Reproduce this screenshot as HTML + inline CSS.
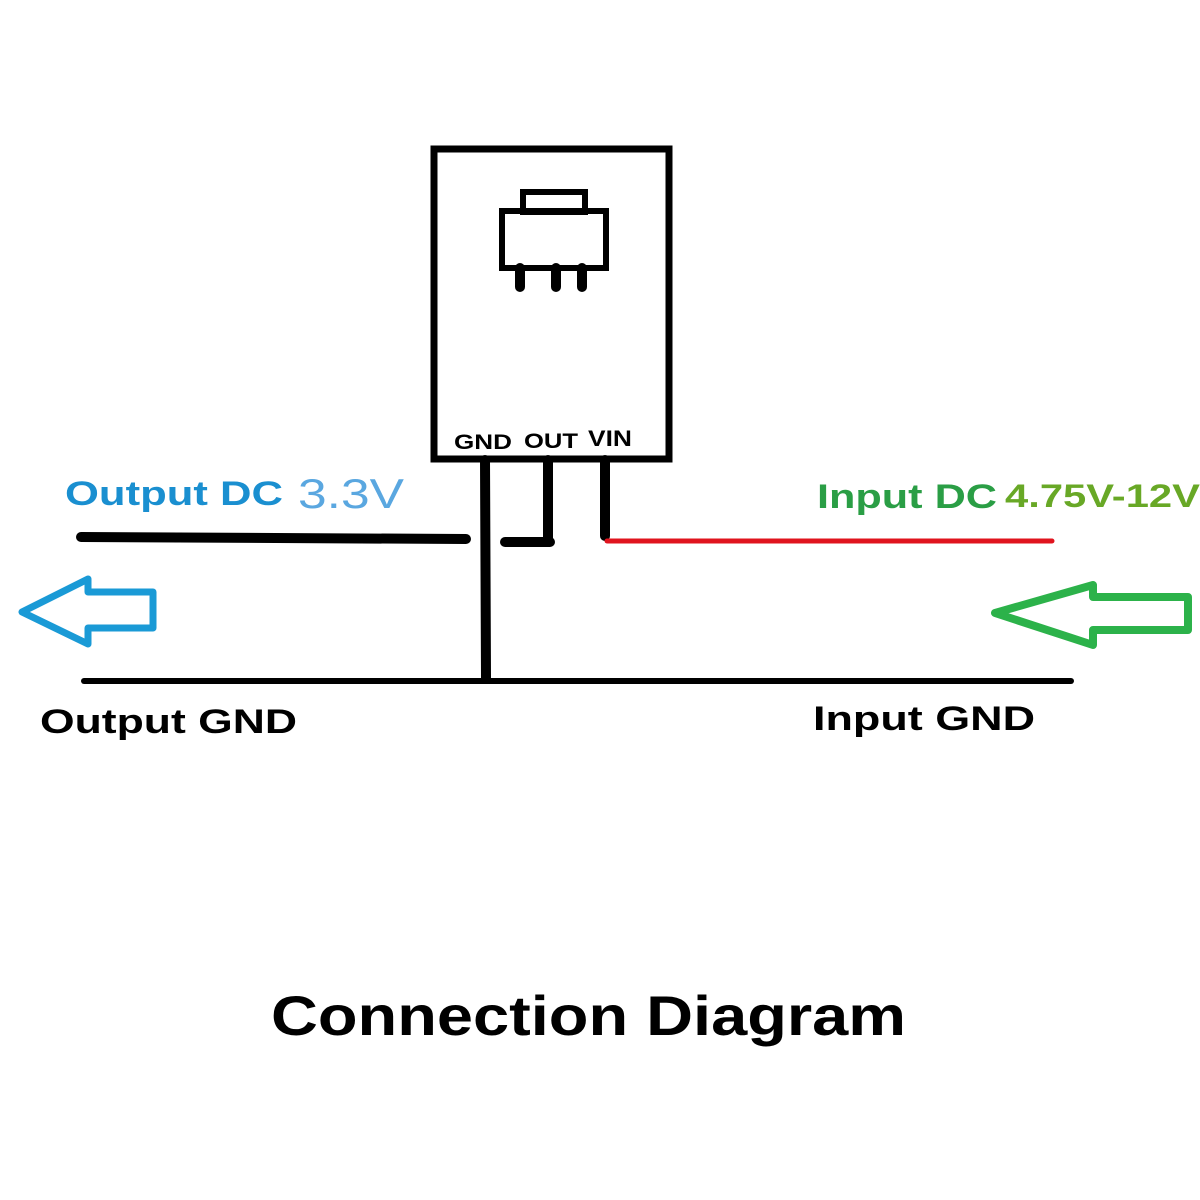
<!DOCTYPE html>
<html><head><meta charset="utf-8"><style>html,body{margin:0;padding:0;background:#fff}svg{display:block}</style></head>
<body>
<svg width="1200" height="1200" viewBox="0 0 1200 1200" xmlns="http://www.w3.org/2000/svg" font-family="'Liberation Sans', 'DejaVu Sans', sans-serif" font-weight="bold">
<rect width="1200" height="1200" fill="#fff"/>
<!-- module box -->
<rect x="434" y="149" width="235" height="310" fill="none" stroke="#000" stroke-width="7"/>
<rect x="523" y="192" width="62" height="20" fill="none" stroke="#000" stroke-width="6"/>
<rect x="502" y="211" width="104" height="57" fill="none" stroke="#000" stroke-width="6"/>
<g stroke="#000" stroke-width="10" stroke-linecap="round">
<line x1="520" y1="268" x2="520" y2="287"/>
<line x1="556" y1="268" x2="556" y2="287"/>
<line x1="582" y1="268" x2="582" y2="287"/>
</g>
<text x="454" y="449" font-size="21" textLength="58" lengthAdjust="spacingAndGlyphs">GND</text>
<text x="524" y="448" font-size="21" textLength="54" lengthAdjust="spacingAndGlyphs">OUT</text>
<text x="588" y="446" font-size="22" textLength="44" lengthAdjust="spacingAndGlyphs">VIN</text>
<!-- wires -->
<g stroke="#000" stroke-width="10" stroke-linecap="round">
<line x1="485" y1="460" x2="486" y2="678"/>
<line x1="548" y1="460" x2="548" y2="541"/>
<line x1="505" y1="542" x2="550" y2="542"/>
<line x1="81" y1="537" x2="466" y2="539"/>
<line x1="605" y1="460" x2="605" y2="536"/>
</g>
<line x1="607" y1="541" x2="1052" y2="541" stroke="#e0141e" stroke-width="5" stroke-linecap="round"/>
<line x1="84" y1="681" x2="1071" y2="681" stroke="#000" stroke-width="6" stroke-linecap="round"/>
<!-- arrows -->
<polygon points="22,612 88,579 88,592 153,592 153,628 88,628 88,644" fill="none" stroke="#1a9ad6" stroke-width="7" stroke-linejoin="round"/>
<polygon points="995,613 1093,585 1093,597 1188,597 1188,630 1093,630 1093,645" fill="none" stroke="#2cb24a" stroke-width="8" stroke-linejoin="round"/>
<!-- labels -->
<text x="65" y="505" font-size="34" fill="#1a8fd0" textLength="218" lengthAdjust="spacingAndGlyphs">Output DC</text>
<text x="298" y="508" font-size="42" font-weight="normal" fill="#5aa7e0" textLength="106" lengthAdjust="spacingAndGlyphs">3.3V</text>
<text x="817" y="508" font-size="34" fill="#2a9e45" textLength="180" lengthAdjust="spacingAndGlyphs">Input DC</text>
<text x="1005" y="507" font-size="32" fill="#68a826" textLength="195" lengthAdjust="spacingAndGlyphs">4.75V-12V</text>
<text x="40" y="733" font-size="34" fill="#000" textLength="257" lengthAdjust="spacingAndGlyphs">Output GND</text>
<text x="813" y="730" font-size="34" fill="#000" textLength="222" lengthAdjust="spacingAndGlyphs">Input GND</text>
<text x="271" y="1035" font-size="56" fill="#000" textLength="635" lengthAdjust="spacingAndGlyphs">Connection Diagram</text>
</svg>
</body></html>
